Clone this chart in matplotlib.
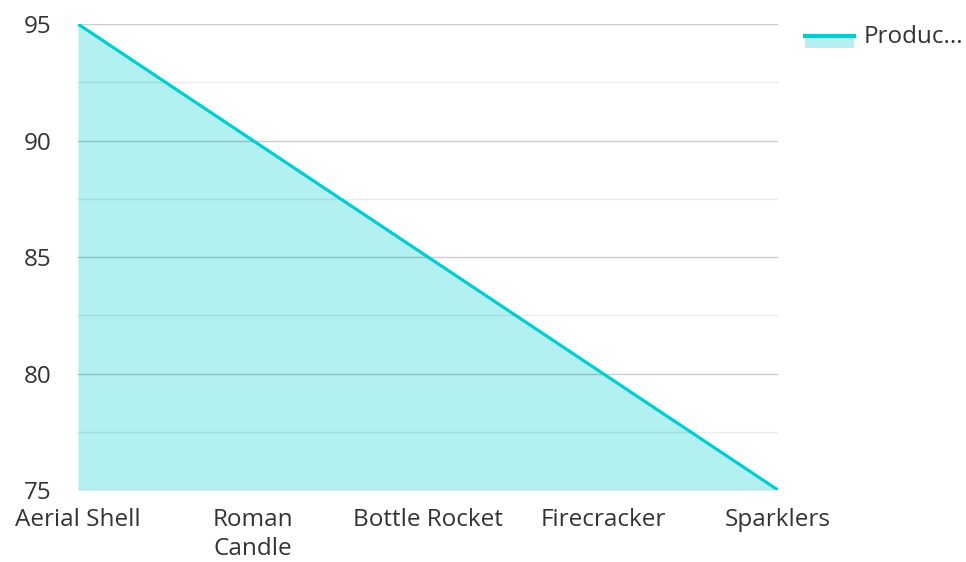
import matplotlib.pyplot as plt
from matplotlib.patches import Rectangle
from matplotlib.lines import Line2D
from matplotlib.ticker import MultipleLocator

plt.rcParams["font.family"] = ["Open Sans", "DejaVu Sans"]

# --- Data ---
categories = ["Aerial Shell", "Roman\nCandle", "Bottle Rocket", "Firecracker", "Sparklers"]
values = [95, 90, 85, 80, 75]
series_name = "Produc..."

line_color = "#00CED1"
fill_color = "#B2F0F1"
text_color = "#333333"

fig = plt.figure(figsize=(9.66, 5.62), dpi=100)
ax = fig.add_axes([0.0807, 0.1281, 0.7246, 0.8292])

x = list(range(len(categories)))
ax.fill_between(x, values, 75, color=fill_color, linewidth=0, zorder=1)
ax.plot(x, values, color=line_color, linewidth=2.3, zorder=3, solid_capstyle="round")

ax.set_xlim(0, len(categories) - 1)
ax.set_ylim(75, 95)
ax.yaxis.set_major_locator(MultipleLocator(5))
ax.yaxis.set_minor_locator(MultipleLocator(2.5))
ax.grid(True, which="major", axis="y", color="black", alpha=0.2, linewidth=1, zorder=2)
ax.grid(True, which="minor", axis="y", color="black", alpha=0.08, linewidth=1, zorder=2)
ax.set_axisbelow(False)

ax.set_xticks(x)
ax.set_xticklabels(categories, fontsize=17.5, color=text_color, linespacing=1.3)
ax.tick_params(axis="x", length=0, pad=13)
ax.tick_params(axis="y", which="both", length=0, pad=19, labelsize=17.5, labelcolor=text_color)
for spine in ax.spines.values():
    spine.set_visible(False)

# --- Legend (drawn in figure pixels) ---
W, H = 966, 562
fig.patches.append(Rectangle((805 / W, (H - 48) / H), 49 / W, 11 / H,
                             transform=fig.transFigure, facecolor=fill_color,
                             edgecolor="none"))
fig.lines.append(Line2D([805 / W, 854 / W], [(H - 35.5) / H, (H - 35.5) / H],
                        transform=fig.transFigure, color=line_color, linewidth=3))
fig.text(864 / W, (H - 37) / H, series_name, fontsize=17.5, color=text_color,
         ha="left", va="center")

fig.savefig("out.png", dpi=100, facecolor="white")
